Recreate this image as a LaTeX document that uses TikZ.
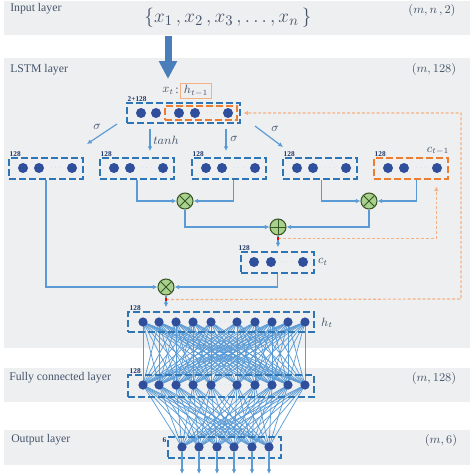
\documentclass[tikz,border=0pt]{standalone}
\usepackage{fontspec}
\setmainfont{Liberation Serif}
\usetikzlibrary{arrows.meta,fit,calc}
\definecolor{bandgray}{HTML}{EEEFF1}
\definecolor{boxblue}{HTML}{2E75B6}
\definecolor{lineblue}{HTML}{5B9BD5}
\definecolor{dotblue}{HTML}{2F4E9B}
\definecolor{txt}{HTML}{44546A}
\definecolor{numc}{HTML}{1F3864}
\definecolor{orangeD}{HTML}{ED7D31}
\definecolor{orangeL}{HTML}{F4B183}
\definecolor{opfill}{HTML}{A9D18E}
\definecolor{opline}{HTML}{375623}
\definecolor{bigarrow}{HTML}{4A7EBB}
\pgfdeclarelayer{back}
\pgfdeclarelayer{wires}
\pgfsetlayers{back,wires,main}
\tikzset{
  bbox/.style={draw=boxblue, line width=1.1pt, dash pattern=on 5pt off 2.5pt, inner sep=0pt},
  obox/.style={draw=orangeD, line width=1.1pt, dash pattern=on 5pt off 2.5pt, inner sep=0pt},
  neuron/.style={circle, fill=dotblue, minimum size=7.5pt, inner sep=0pt},
  sneuron/.style={circle, fill=dotblue, minimum size=6.9pt, inner sep=0pt},
  dotsn/.style={text=lineblue!55, font=\fontsize{5}{5}\selectfont, inner sep=0pt},
  op/.style={circle, draw=opline, fill=opfill, line width=0.8pt, minimum size=12pt, inner sep=0pt},
  times/.style={path picture={\draw[opline, line width=0.7pt] (path picture bounding box.north west) -- (path picture bounding box.south east) (path picture bounding box.south west) -- (path picture bounding box.north east);}},
  plus/.style={path picture={\draw[opline, line width=0.7pt] (path picture bounding box.north) -- (path picture bounding box.south) (path picture bounding box.west) -- (path picture bounding box.east);}},
  conn/.style={draw=lineblue, line width=0.9pt, -{Latex[length=3.5pt,width=3.5pt]}},
  wire/.style={draw=lineblue, line width=0.55pt},
  fb/.style={draw=orangeL, line width=0.9pt, dash pattern=on 2.2pt off 1.5pt, -{Latex[length=3.5pt,width=3.5pt]}},
  lbl/.style={text=txt, font=\fontsize{8.8}{10}\selectfont, inner sep=0pt},
  num/.style={text=numc, font=\fontsize{5.5}{6}\selectfont\bfseries, inner sep=0.3pt},
  reddot/.style={fill=red, minimum size=1.8pt, inner sep=0pt, rectangle}
}
\begin{document}
\begin{tikzpicture}[x=0.75pt,y=-0.75pt]
\useasboundingbox (0,0) rectangle (474,475);
\begin{pgfonlayer}{back}
\fill[bandgray] (4,1) rectangle (470,35);
\fill[bandgray] (4,58) rectangle (470,348);
\fill[bandgray] (4,368) rectangle (470,402);
\fill[bandgray] (4,430) rectangle (470,465);
\end{pgfonlayer}

% band labels
\node[lbl, anchor=west] (tin) at (10,9) {Input layer};
\node[lbl] (sin) at (432,10) {$(m,n\,,2)$};
\node[lbl, font=\fontsize{15}{18}\selectfont] (xs) at (228,18) {$\{x_1\,, x_2\,, x_3\,, \dots, x_n\,\}$};
\node[lbl, anchor=west] (tlstm) at (10,70) {LSTM layer};
\node[lbl] (slstm) at (434,69) {$(m,128)$};
\node[lbl, anchor=west] (tfc) at (9,378) {Fully connected layer};
\node[lbl] (sfc) at (434,378) {$(m,128)$};
\node[lbl, anchor=west] (tout) at (11,440) {Output layer};
\node[lbl] (sout) at (441,440) {$(m,6)$};

% big input arrow
\coordinate (ba1) at (168,36);
\coordinate (ba2) at (168,79);
\draw[bigarrow, line width=5.25pt, -{Triangle[length=13.5pt,width=13pt]}] (ba1) -- (ba2);

% concatenated input
\node[bbox, fit={(127,103) (240,123)}] (xin) {};
\node[obox, line width=0.9pt, fit={(165,106) (237,120)}] (hin) {};
\foreach \x [count=\i] in {141,156,179,195,228} \node[neuron] (x\i) at (\x,113) {};
\node[dotsn] (xd) at (212,113) {$\cdots$};
\node[num, anchor=south west] (xnum) at (127,102) {2+128};
\node[lbl] (xt) at (168,91) {$x_t$};
\node[lbl] (xcol) at (177,91) {:};
\node[lbl, draw=orangeL, line width=0.7pt, inner xsep=2.5pt, inner ysep=1.5pt] (ht1) at (196,91) {$h_{t-1}$};

% gate arrows
\coordinate (a1s) at (117,124); \coordinate (a1e) at (87,144);
\coordinate (a2s) at (150,129); \coordinate (a2e) at (150,151);
\coordinate (a3s) at (226,129); \coordinate (a3e) at (226,151);
\coordinate (a4s) at (255,126); \coordinate (a4e) at (283,147);
\draw[conn] (a1s) -- (a1e);
\draw[conn] (a2s) -- (a2e);
\draw[conn] (a3s) -- (a3e);
\draw[conn] (a4s) -- (a4e);
\node[lbl] (s1) at (97,127) {$\sigma$};
\node[lbl, anchor=west] (s2) at (153,140) {$tanh$};
\node[lbl, anchor=west] (s3) at (230,139) {$\sigma$};
\node[lbl] (s4) at (275,129) {$\sigma$};

% gate boxes
\foreach \l/\s [count=\i] in {9/bbox,100/bbox,192/bbox,283/bbox,374/obox} {
  \node[\s, fit={(\l,158) (\l+74,179)}] (g\i) {};
  \node[neuron] (g\i a) at (\l+14,168) {};
  \node[neuron] (g\i b) at (\l+30,168) {};
  \node[neuron] (g\i c) at (\l+63,168) {};
  \node[dotsn] (g\i d) at (\l+47,168) {$\cdots$};
  \node[num, anchor=south west] (g\i n) at (\l,157) {128};
}
\node[lbl] (ctm1) at (438,151) {$c_{t-1}$};

% operators
\node[op, times] (m1) at (185,201) {};
\node[op, times] (m2) at (369,201) {};
\node[op, plus] (p1) at (278,227) {};
\node[op, times] (m3) at (166,287) {};

% cell state box
\node[bbox, fit={(241,252) (314,273)}] (ct) {};
\node[neuron] (ct1) at (254,262) {};
\node[neuron] (ct2) at (271,262) {};
\node[neuron] (ct3) at (303,262) {};
\node[dotsn] (ctd) at (287,262) {$\cdots$};
\node[num, anchor=south west] (ctn) at (238,251) {128};
\node[lbl] (ctl) at (323,262) {$c_t$};

% LSTM connectors
\draw[conn] (g2.south) |- (m1.west);
\draw[conn] ([xshift=3.2pt]g3.south) |- (m1.east);
\draw[conn] ([xshift=1pt]g4.south) |- (m2.west);
\draw[conn] ([xshift=4.2pt]g5.south) |- (m2.east);
\draw[conn] (m1.south) |- (p1.west);
\draw[conn] (m2.south) |- (p1.east);
\draw[conn, shorten >=3pt] (p1.south) -- (p1.south |- ct.north);
\coordinate (r1) at ($(p1.south)+(0,3)$);
\draw[fb, shorten >=5pt] (r1) -| ([xshift=19pt]g5.south);
\node[reddot] (rd1) at (r1) {};
\draw[conn] (g1.south) |- (m3.west);
\draw[conn] (ct.south) |- (m3.east);

% hidden state
\node[bbox, fit={(128,312) (314,332)}] (hbox) {};
\draw[conn, shorten >=3pt] (m3.south) -- (m3.south |- hbox.north);
\coordinate (r2) at ($(m3.south)+(0,4)$);
\coordinate (fbr) at (461,299);
\draw[fb, shorten >=2pt] (r2) -- (fbr) |- (xin.east);
\node[reddot] (rd2) at (r2) {};
\foreach \x [count=\i] in {143,159,176,193,211,237,255,272,288,305} \node[sneuron] (h\i) at (\x,322) {};
\node[dotsn] (hd) at (225,322) {$\cdots$};
\node[num, anchor=south west] (hn) at (129,311) {128};
\node[lbl] (htl) at (327,323) {$h_t$};

% fully connected
\node[bbox, fit={(128,375) (314,397)}] (fbox) {};
\foreach \x [count=\i] in {143,159,176,193,211,237,255,272,288,305} \node[sneuron] (f\i) at (\x,385) {};
\node[dotsn] (fd) at (225,385) {$\cdots$};
\node[num, anchor=south west] (fn) at (129,374) {128};

% output
\node[bbox, fit={(168,437) (281,458)}] (obox) {};
\foreach \x [count=\i] in {182,199,217,234,252,269} {
  \node[sneuron] (o\i) at (\x,447) {};
  \coordinate (oe\i) at (\x,474);
  \draw[conn] (o\i.south) -- (oe\i);
}
\node[num, anchor=south east] (on) at (167,443) {6};

\begin{pgfonlayer}{wires}
\foreach \i in {1,...,10} \foreach \j in {1,...,10} \draw[wire] (h\i.center) -- (f\j.center);
\foreach \i in {1,...,10} \foreach \j in {1,...,6} \draw[wire] (f\i.center) -- (o\j.center);
\end{pgfonlayer}
\end{tikzpicture}
\end{document}
